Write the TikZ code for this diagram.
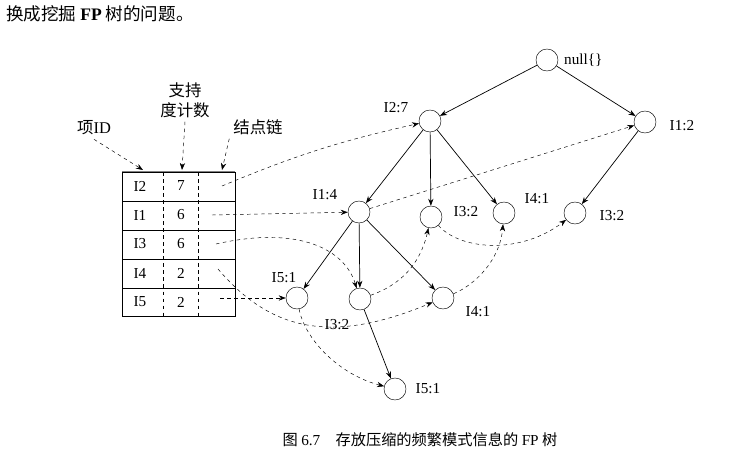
\documentclass[tikz,border=0pt]{standalone}
\usepackage{fontspec}
\setmainfont{Liberation Serif}
\newfontfamily\cjk{Noto Sans CJK SC}
\usetikzlibrary{arrows.meta}
\begin{document}
\begin{tikzpicture}[x=0.03cm,y=-0.03cm,
  nd/.style={circle,draw,minimum size=0.66cm,inner sep=0pt},
  lbl/.style={font=\fontsize{13}{15}\selectfont},
  tree/.style={-{Stealth[length=6pt]},semithick},
  lnk/.style={-{Stealth[length=6pt]},dashed},
  cell/.style={font=\fontsize{13}{15}\selectfont}]
\useasboundingbox (0,0) rectangle (746,472);
\node[anchor=west,font=\cjk\fontsize{15}{17}\selectfont] (top) at (2,14) {换成挖掘 {\rmfamily\bfseries FP} 树的问题。};
\node[font=\cjk\fontsize{13}{15}\selectfont] (cap) at (420,440) {图 {\rmfamily 6.7}\quad 存放压缩的频繁模式信息的 {\rmfamily FP} 树};
% tree nodes
\node[nd] (n) at (547,60) {}; \node[lbl,anchor=west] (ln) at (560,60) {null\{\}};
\node[nd] (a) at (430,121) {}; \node[lbl] (la) at (396,108) {I2:7};
\node[nd] (b) at (645,122) {}; \node[lbl] (lb) at (682,126) {I1:2};
\node[nd] (c) at (359,212) {}; \node[lbl] (lc) at (325,195) {I1:4};
\node[nd] (d) at (431,217) {}; \node[lbl] (ld) at (466,212) {I3:2};
\node[nd] (e) at (504,213) {}; \node[lbl] (le) at (537,199) {I4:1};
\node[nd] (f) at (575,213) {}; \node[lbl] (lf) at (612,216) {I3:2};
\node[nd] (g) at (297,298) {}; \node[lbl] (lg) at (284,278) {I5:1};
\node[nd] (h) at (360,299) {}; \node[lbl] (lh) at (337,325) {I3:2};
\node[nd] (i) at (443,298) {}; \node[lbl] (li) at (478,312) {I4:1};
\node[nd] (j) at (395,389) {}; \node[lbl] (lj) at (428,389) {I5:1};
\draw[tree] (n)--(a); \draw[tree] (n)--(b);
\draw[tree] (a)--(c); \draw[tree] (a)--(d); \draw[tree] (a)--(e);
\draw[tree] (b)--(f);
\draw[tree] (c)--(g); \draw[tree] (c)--(h); \draw[tree] (c)--(i);
\draw[tree] (h)--(j);
% table
\draw[gray,line width=1.2pt] (122,172)--(235,172);
\draw (122,172) rectangle (235,316);
\foreach \y in {201,230,259,288} \draw (122,\y)--(235,\y);
\draw[dashed] (163,172)--(163,316); \draw[dashed] (198,172)--(198,316);
\foreach \t/\v/\y in {I2/7/186,I1/6/215,I3/6/244,I4/2/273,I5/2/302}{
  \node[cell] at (140,\y) {\t}; \node[cell] at (181,\y) {\v};}
\coordinate (r1) at (222,186); \coordinate (r2) at (212,215);
\coordinate (r3) at (216,244); \coordinate (r4) at (218,269);
\coordinate (r5) at (220,298);
% header labels
\node[font=\cjk\fontsize{14}{17}\selectfont] (h1) at (94,128) {项{\rmfamily ID}};
\node[font=\cjk\fontsize{14}{17}\selectfont,align=center] (h2) at (185,100) {支持\\度计数};
\node[font=\cjk\fontsize{14}{17}\selectfont] (h3) at (258,127) {结点链};
\coordinate (t1) at (143,170); \coordinate (t2) at (182,170); \coordinate (t3) at (222,170);
\draw[lnk] (h1.south)--(t1); \draw[lnk] (h2.south)--(t2); \draw[lnk] (h3.south west)--(t3);
% node links
\draw[lnk] (r1) to[bend left=5] (a);
\draw[lnk] (r2) -- (c);
\draw[lnk] (r3) .. controls (300,225) and (345,250) .. (h);
\draw[lnk] (r4) .. controls (270,330) and (330,345) .. (i);
\draw[lnk] (r5) -- (g);
\draw[lnk] (c) -- (b);
\draw[lnk] (g) .. controls (305,340) and (340,375) .. (j);
\draw[lnk] (h) .. controls (400,285) and (420,265) .. (d);
\draw[lnk] (d) .. controls (460,250) and (520,255) .. (f);
\draw[lnk] (i) .. controls (475,285) and (500,260) .. (e);
\end{tikzpicture}
\end{document}
